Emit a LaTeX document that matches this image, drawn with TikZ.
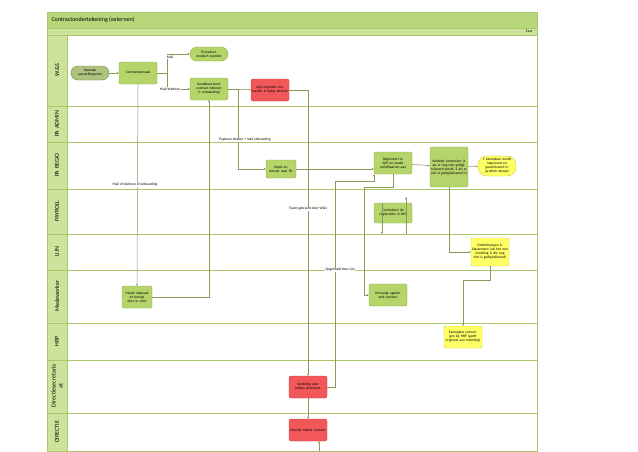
\documentclass[tikz,border=0pt]{standalone}
\usepackage{fontspec}
\setmainfont{Carlito}
\usetikzlibrary{arrows.meta}
\definecolor{hdr}{HTML}{B8D77A}
\definecolor{strip}{HTML}{CDE39B}
\definecolor{lane}{HTML}{A9C86A}
\definecolor{gfill}{HTML}{B5D56A}
\definecolor{gdraw}{HTML}{8AAD3C}
\definecolor{rfill}{HTML}{F2585A}
\definecolor{rdraw}{HTML}{C84040}
\definecolor{yfill}{HTML}{FFFF66}
\definecolor{ydraw}{HTML}{C8C832}
\definecolor{ln}{HTML}{8A9A5B}
\tikzset{
  box/.style={rounded corners=2pt,draw=gdraw,fill=gfill,minimum width=38pt,minimum height=22pt,text width=36pt,align=center,font=\fontsize{3.6}{4}\selectfont,inner sep=1pt},
  pill/.style={box,rounded corners=7pt,minimum height=14pt},
  redbox/.style={box,fill=rfill,draw=rdraw},
  ybox/.style={box,fill=yfill,draw=ydraw},
  conn/.style={draw=ln,line width=0.5pt,-{Stealth[length=2pt,width=2pt]}},
  plain/.style={draw=ln,line width=0.5pt},
  lbl/.style={font=\fontsize{3.6}{4}\selectfont,fill=white,inner sep=0.5pt},
  lanelbl/.style={rotate=90,font=\fontsize{6}{7}\selectfont,align=center,text width=50pt},
}
\begin{document}
\begin{tikzpicture}[x=1pt,y=-1pt]
\useasboundingbox (0,0) rectangle (638,451);
\fill[white] (0,0) rectangle (638,451);
% header
\fill[hdr] (47,12) rectangle (537,28);
\fill[strip] (47,28) rectangle (537,35);
\node[anchor=west,font=\fontsize{6}{7}\selectfont] (title) at (48,20) {Contractondertekening (externen)};
\node[anchor=east,font=\fontsize{3.6}{4}\selectfont] (fase) at (536,31.5) {Fase};
\fill[strip] (47,35) rectangle (67,451);
\draw[lane,line width=0.5pt] (47,12) rectangle (537,451);
\draw[lane,line width=0.5pt] (47,28) -- (537,28) (47,35) -- (537,35) (67,35) -- (67,451);
\foreach \y in {106,142,189,234,270,323,360,413}{\draw[lane,line width=0.5pt] (47,\y) -- (537,\y);}
\node[lanelbl] (l1) at (57,70) {W\&S};
\node[lanelbl] (l2) at (57,124) {PA ADMIN};
\node[lanelbl] (l3) at (57,165) {PA REGIO};
\node[lanelbl] (l4) at (57,211) {PAYROLL};
\node[lanelbl] (l5) at (57,252) {LIJN};
\node[lanelbl] (l6) at (57,296) {Medewerker};
\node[lanelbl] (l7) at (57,341) {HRP};
\node[lanelbl] (l8) at (57,386) {Directiesecretaria\\at};
\node[lanelbl] (l9) at (57,432) {DIRECTIE};
% nodes
\node[pill,fill=lane!90!black!80,draw=gdraw!80!black] (opm) at (90,73) {Opmaak aanstellingsnota};
\node[box] (con) at (138,73) {Contractopmaak};
\node[pill] (proc) at (209,54) {Procedure medisch toezicht};
\node[box] (kan) at (209,89) {Kandidaat komt contract tekenen (+ onboarding)};
\node[redbox] (legt) at (270,90) {Legt originele contracten in bakje directie};
\node[box,minimum width=30pt,text width=28pt,minimum height=18pt] (kop) at (281,169) {Kopie en dossier naar PA};
\node[box] (reg) at (393,163) {Registreert in SAP en maakt verlofkaarten aan};
\node[box,minimum height=40pt] (ver) at (449,167) {Verdeelt contracten (1 als er nog niet gedigitaliseerd wordt, 2 als er wel al gedigitaliseerd is)};
\node[ybox,rounded corners=9pt,minimum height=20pt] (ex1) at (497,166) {1 exemplaar wordt ingescand en gearchiveerd in juridisch dossier};
\node[box,minimum height=20pt] (ctr) at (393,213) {Controleert de registraties in SAP};
\node[ybox,minimum height=28pt] (ond) at (490,252) {Onderbrengen in klassement (als het een instelling is die nog niet is gedigitaliseerd)};
\node[box,minimum width=30pt,text width=28pt] (maa) at (137,297) {Maakt afspraak en brengt docs in orde};
\node[box] (ont) at (388,295) {Ontvangt ogetekend contract};
\node[ybox] (hrp) at (463,337) {Exemplaar ontvangen bij HRP (geeft origineel aan instelling)};
\node[redbox] (vdl) at (308,387) {Verdeling over bakjes directeurs};
\node[redbox] (dir) at (308,430) {Directie tekent contract};
% coordinates
\coordinate (b1) at (167,73);
\coordinate (dbot) at (319,451);
% connectors
\draw[conn] (opm) -- (con);
\draw[plain] (con.east) -- (b1);
\draw[conn] (b1) |- (proc.west);
\draw[conn] (b1) |- (kan.west);
\node[lbl] (lmail) at (170,57) {Mail};
\node[lbl] (lmt) at (170,89) {Mail/telefoon};
\draw[conn] (kan) -- (legt);
\draw[conn] (kan.east) -| ++(10,0) |- (kop.west);
\node[lbl] (lpap) at (245,140) {Papieren dossier + mail onboarding};
\draw[conn] (legt.east) -| (vdl.north);
\node[lbl] (ltys) at (308,209) {Tyseit gebracht door W\&S};
\draw[conn] (con.south) -- (maa.north);
\node[lbl] (lmto) at (135,185) {Mail of telefoon of onboarding};
\draw[conn] (maa.east) -| (kan.south);
\draw[conn] (kop.east) -- (kop.east -| reg.west);
\draw[conn] (vdl.east) -| ++(8,0) |- (374,181) -- (reg.south west -| 374,0) ;
\draw[conn] (reg.south) |- (364,187) |- (ont.west);
\node[lbl] (lopg) at (340,270) {Opgehaald door Lijn};
\draw[conn] (reg) -- (ver);
\draw[conn] (ver) -- (ex1);
\draw[conn] (ver.south) |- (ond.west);
\draw[conn] (ond.south) |- (463,280) -- (hrp.north);
\draw[conn] (382,203) -- (382,234);
\draw[conn] (406,234) -- (406,197);
\draw[conn] (vdl) -- (dir);
\draw[conn] (dbot) -- (dbot |- dir.south);
\end{tikzpicture}
\end{document}
